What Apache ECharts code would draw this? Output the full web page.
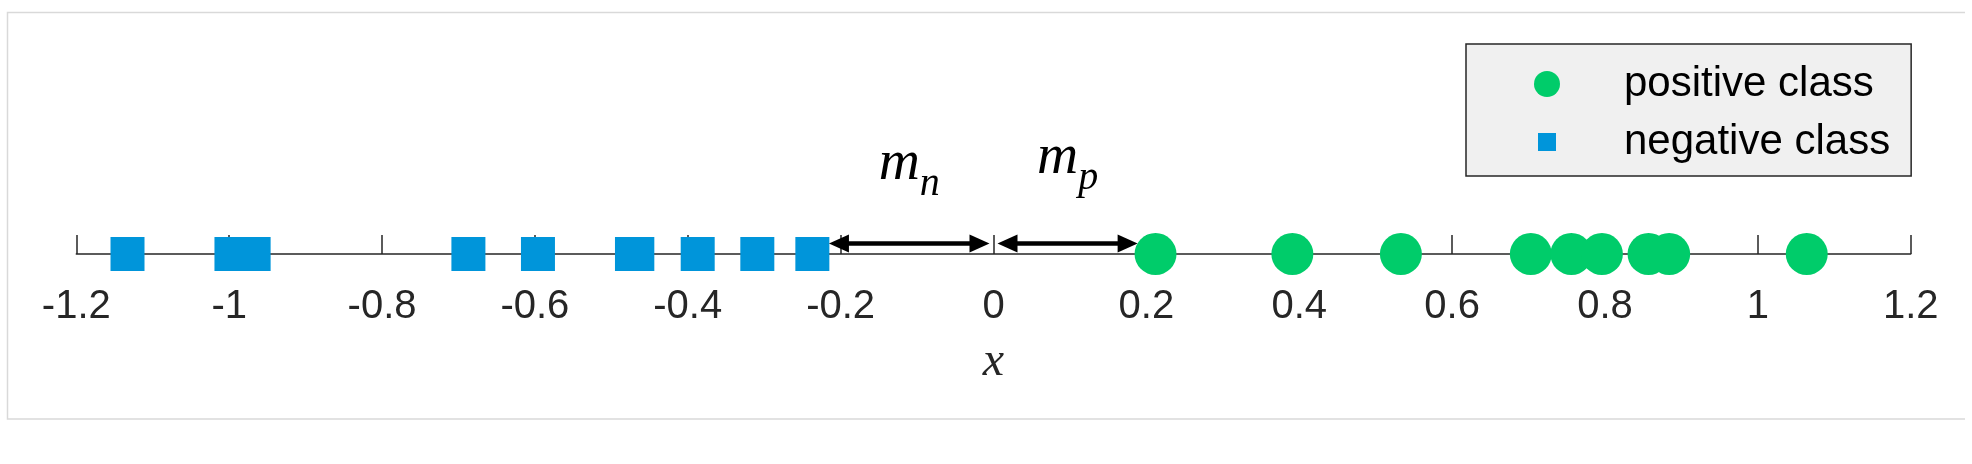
<!DOCTYPE html>
<html>
<head>
<meta charset="utf-8">
<script src="https://cdn.jsdelivr.net/npm/echarts@6/dist/echarts.min.js"></script>
<style>
  html, body { margin: 0; padding: 0; background: #fff; }
  #main { width: 1972px; height: 464px; }
</style>
</head>
<body>
<div id="main"></div>
<script>
// sample positions along the x line
const positiveX = [0.212, 0.391, 0.533, 0.703, 0.756, 0.796, 0.857, 0.884, 1.064];
const negativeX = [-1.133, -0.997, -0.968, -0.687, -0.596, -0.473, -0.466, -0.387, -0.309, -0.237];

// axis ticks
const xTicks = [-1.2, -1, -0.8, -0.6, -0.4, -0.2, 0, 0.2, 0.4, 0.6, 0.8, 1, 1.2];
const xTickLabels = ['-1.2', '-1', '-0.8', '-0.6', '-0.4', '-0.2', '0', '0.2', '0.4', '0.6', '0.8', '1', '1.2'];

// margin arrows (tip to tip, from the closest sample to the boundary at 0)
const marginSubs = ['n', 'p'];
const marginStart = [-0.2146, 0.0059];
const marginEnd = [-0.0059, 0.1879];
const arrowLevel = 0.05;
// symbols are centred on the line ends, so pull them in by half a head
const arrowInset = 0.0124;

const legendNames = ['positive class', 'negative class'];

const tickLabelOf = v => {
  const i = xTicks.findIndex(t => Math.abs(t - v) < 1e-6);
  return i >= 0 ? xTickLabels[i] : '';
};

const chart = echarts.init(document.getElementById('main'));

const marginLines = marginSubs.map((sub, i) => [
  {
    coord: [marginStart[i] + arrowInset, arrowLevel],
    label: {
      show: true,
      position: 'middle',
      distance: i === 0 ? 39 : 45,
      formatter: '{m|m}{s|' + sub + '}',
      rich: {
        m: { fontFamily: 'Liberation Serif', fontStyle: 'italic', fontSize: 57, color: '#000' },
        s: { fontFamily: 'Liberation Serif', fontStyle: 'italic', fontSize: 40, color: '#000', padding: [40, 0, 0, 0] }
      }
    }
  },
  { coord: [marginEnd[i] - arrowInset, arrowLevel] }
]);

const option = {
  backgroundColor: '#fff',
  animation: false,
  grid: { left: 76.3, right: 61.3, top: 44, bottom: 210 },
  xAxis: {
    type: 'value',
    min: -1.2,
    max: 1.2,
    interval: 0.2,
    name: 'x',
    nameLocation: 'middle',
    nameGap: 84,
    nameTextStyle: { fontFamily: 'Liberation Serif', fontStyle: 'italic', fontSize: 48, color: '#262626' },
    axisLine: { onZero: false, lineStyle: { color: '#262626', width: 1.5 } },
    axisTick: { inside: true, length: 19, lineStyle: { color: '#262626', width: 1.5 } },
    axisLabel: {
      margin: 33,
      fontFamily: 'Liberation Sans',
      fontSize: 40,
      color: '#262626',
      formatter: tickLabelOf
    },
    splitLine: { show: false }
  },
  yAxis: { type: 'value', min: 0, max: 1, show: false },
  legend: {
    data: [
      { name: legendNames[0], icon: 'circle' },
      { name: legendNames[1], icon: 'path://M0 0M26 26M4 4L22 4L22 22L4 22Z' }
    ],
    orient: 'vertical',
    left: 1466,
    top: 44,
    itemWidth: 144,
    itemHeight: 26,
    itemGap: 16,
    padding: [19, 21, 13, 68],
    backgroundColor: '#f0f0f0',
    borderColor: '#262626',
    borderWidth: 1.5,
    borderRadius: 0,
    selectedMode: false,
    textStyle: { fontFamily: 'Liberation Sans', fontSize: 42, color: '#000', padding: 0 }
  },
  graphic: [{
    type: 'polyline',
    shape: { points: [[1965, 12.5], [7.5, 12.5], [7.5, 419], [1965, 419]] },
    style: { stroke: '#d9d9d9', lineWidth: 1.5, fill: null },
    silent: true
  }],
  series: [
    {
      name: legendNames[0],
      type: 'scatter',
      symbol: 'circle',
      symbolSize: 42,
      clip: false,
      itemStyle: { color: '#00cc6a', opacity: 1 },
      data: positiveX.map(v => [v, 0])
    },
    {
      name: legendNames[1],
      type: 'scatter',
      symbol: 'rect',
      symbolSize: 34,
      clip: false,
      itemStyle: { color: '#0095da', opacity: 1 },
      data: negativeX.map(v => [v, 0])
    },
    {
      name: 'margins',
      type: 'line',
      data: [],
      markLine: {
        silent: true,
        symbol: ['triangle', 'triangle'],
        symbolSize: [18, 20],
        lineStyle: { color: '#000', width: 4.5, type: 'solid' },
        data: marginLines
      }
    }
  ]
};

chart.setOption(option);
</script>
</body>
</html>
